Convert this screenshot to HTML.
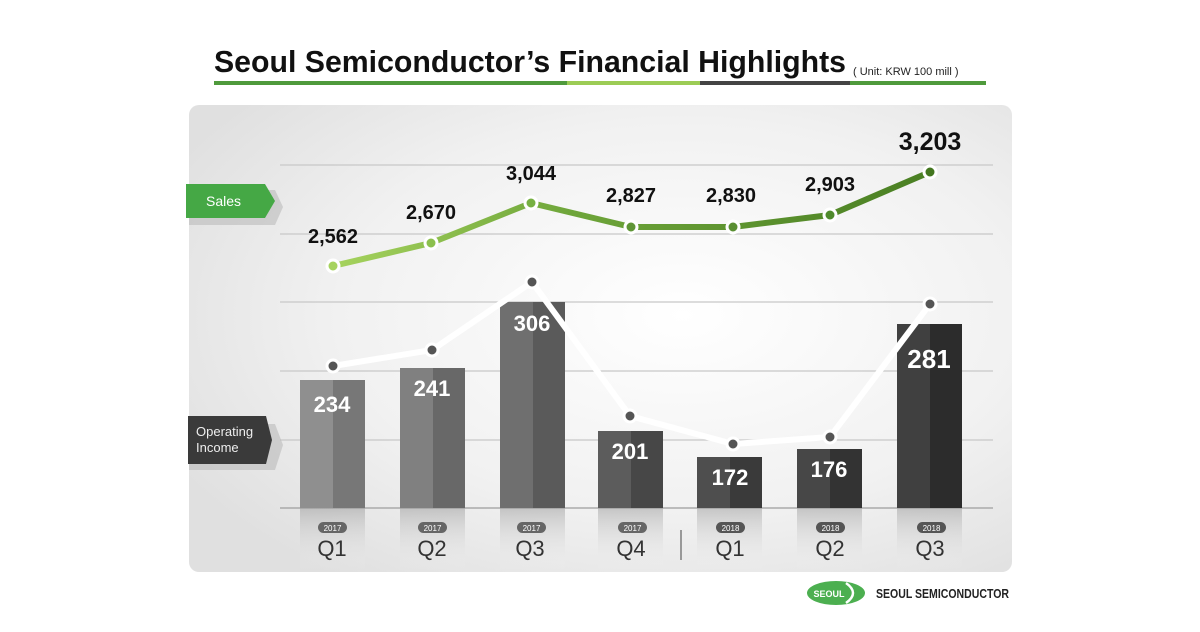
<!DOCTYPE html>
<html><head><meta charset="utf-8"><style>
body{margin:0;width:1200px;height:627px;background:#fff;overflow:hidden;font-family:"Liberation Sans",sans-serif}
</style></head><body>
<svg width="1200" height="627" viewBox="0 0 1200 627" xmlns="http://www.w3.org/2000/svg" font-family="Liberation Sans, sans-serif">
<defs>
<radialGradient id="bg" cx="0.6" cy="0.45" r="0.7">
<stop offset="0" stop-color="#ffffff"/><stop offset="0.6" stop-color="#f1f1f1"/><stop offset="1" stop-color="#e0e0e0"/></radialGradient>
<linearGradient id="sl" x1="0" x2="1"><stop offset="0" stop-color="#a6d35e"/><stop offset="0.4" stop-color="#6ea53a"/><stop offset="1" stop-color="#4a7f23"/></linearGradient>
<linearGradient id="fade" x1="0" y1="0" x2="0" y2="1"><stop offset="0" stop-color="#999" stop-opacity="0.5"/><stop offset="1" stop-color="#fff" stop-opacity="0"/></linearGradient>
</defs>
<text x="214" y="72" font-size="31" font-weight="bold" fill="#111" textLength="632" lengthAdjust="spacingAndGlyphs">Seoul Semiconductor’s Financial Highlights</text>
<text x="853" y="75" font-size="11" fill="#222">( Unit: KRW 100 mill )</text>
<rect x="214" y="81" width="353" height="4" fill="#4f9a3c"/>
<rect x="567" y="81" width="133" height="4" fill="#9ccc55"/>
<rect x="700" y="81" width="150" height="4" fill="#444"/>
<rect x="850" y="81" width="136" height="4" fill="#4f9a3c"/>
<rect x="189" y="105" width="823" height="467" rx="10" fill="url(#bg)"/>
<g stroke="#c8c8c8" stroke-width="1.2">
<line x1="280" y1="165" x2="993" y2="165"/><line x1="280" y1="234" x2="993" y2="234"/><line x1="280" y1="302" x2="993" y2="302"/><line x1="280" y1="371" x2="993" y2="371"/><line x1="280" y1="440" x2="993" y2="440"/></g>
<line x1="280" y1="508" x2="993" y2="508" stroke="#aaa" stroke-width="1.5"/>
<!-- bars -->
<g>
<rect x="300" y="380" width="65" height="128" fill="#8f8f8f"/><rect x="333" y="380" width="32" height="128" fill="#777"/>
<rect x="400" y="368" width="65" height="140" fill="#808080"/><rect x="433" y="368" width="32" height="140" fill="#686868"/>
<rect x="500" y="302" width="65" height="206" fill="#6f6f6f"/><rect x="533" y="302" width="32" height="206" fill="#5a5a5a"/>
<rect x="598" y="431" width="65" height="77" fill="#5c5c5c"/><rect x="631" y="431" width="32" height="77" fill="#474747"/>
<rect x="697" y="457" width="65" height="51" fill="#4e4e4e"/><rect x="730" y="457" width="32" height="51" fill="#3a3a3a"/>
<rect x="797" y="449" width="65" height="59" fill="#474747"/><rect x="830" y="449" width="32" height="59" fill="#333"/>
<rect x="897" y="324" width="65" height="184" fill="#404040"/><rect x="930" y="324" width="32" height="184" fill="#2c2c2c"/>
</g>
<g fill="url(#fade)">
<rect x="300" y="508" width="65" height="64"/><rect x="400" y="508" width="65" height="64"/><rect x="500" y="508" width="65" height="64"/><rect x="598" y="508" width="65" height="64"/><rect x="697" y="508" width="65" height="64"/><rect x="797" y="508" width="65" height="64"/><rect x="897" y="508" width="65" height="64"/></g>
<g fill="#fff" font-size="22" font-weight="bold" text-anchor="middle">
<text x="332" y="412">234</text><text x="432" y="396">241</text><text x="532" y="331">306</text><text x="630" y="459">201</text><text x="730" y="485">172</text><text x="829" y="477">176</text><text x="929" y="368" font-size="26">281</text></g>
<!-- operating income line -->
<polyline points="333,366 432,350 532,282 630,416 733,444 830,437 930,304" fill="none" stroke="#fff" stroke-width="6" stroke-linejoin="round"/>
<g fill="#555" stroke="#fff" stroke-width="3">
<circle cx="333" cy="366" r="6"/><circle cx="432" cy="350" r="6"/><circle cx="532" cy="282" r="6"/><circle cx="630" cy="416" r="6"/><circle cx="733" cy="444" r="6"/><circle cx="830" cy="437" r="6"/><circle cx="930" cy="304" r="6"/></g>
<!-- sales line -->
<polyline points="333,266 431,243 531,203 631,227 733,227 830,215 930,172" fill="none" stroke="url(#sl)" stroke-width="6" stroke-linejoin="round"/>
<g stroke="#fff" stroke-width="3">
<circle cx="333" cy="266" r="6" fill="#a6d35e"/><circle cx="431" cy="243" r="6" fill="#8cc04e"/><circle cx="531" cy="203" r="6" fill="#76b042"/><circle cx="631" cy="227" r="6" fill="#5f9536"/><circle cx="733" cy="227" r="6" fill="#5a8f33"/><circle cx="830" cy="215" r="6" fill="#4f8a2c"/><circle cx="930" cy="172" r="6" fill="#43761f"/></g>
<g fill="#111" font-size="20" font-weight="bold" text-anchor="middle">
<text x="333" y="243">2,562</text><text x="431" y="219">2,670</text><text x="531" y="180">3,044</text><text x="631" y="202">2,827</text><text x="731" y="202">2,830</text><text x="830" y="191">2,903</text><text x="930" y="150" font-size="25">3,203</text></g>
<!-- side labels -->
<polygon points="189,190 275,190 283,207 275,225 189,225" fill="#bbb" opacity="0.6"/>
<polygon points="186,184 265,184 275,201 265,218 186,218" fill="#45a845"/>
<text x="206" y="206" font-size="14" fill="#fff">Sales</text>
<polygon points="189,424 275,424 283,445 275,470 189,470" fill="#bbb" opacity="0.6"/>
<polygon points="188,416 266,416 272,440 266,464 188,464" fill="#3a3a3a"/>
<text x="196" y="436" font-size="13" fill="#eee">Operating</text>
<text x="196" y="452" font-size="13" fill="#eee">Income</text>
<!-- x labels -->
<g>
<rect x="318" y="522" width="29" height="11" rx="5.5" fill="#666"/><rect x="418" y="522" width="29" height="11" rx="5.5" fill="#666"/><rect x="517" y="522" width="29" height="11" rx="5.5" fill="#666"/><rect x="618" y="522" width="29" height="11" rx="5.5" fill="#666"/><rect x="716" y="522" width="29" height="11" rx="5.5" fill="#555"/><rect x="816" y="522" width="29" height="11" rx="5.5" fill="#555"/><rect x="917" y="522" width="29" height="11" rx="5.5" fill="#555"/></g>
<g fill="#fff" font-size="8" text-anchor="middle">
<text x="332.5" y="531">2017</text><text x="432.5" y="531">2017</text><text x="531.5" y="531">2017</text><text x="632.5" y="531">2017</text><text x="730.5" y="531">2018</text><text x="830.5" y="531">2018</text><text x="931.5" y="531">2018</text></g>
<g fill="#333" font-size="22" text-anchor="middle">
<text x="332" y="556">Q1</text><text x="432" y="556">Q2</text><text x="530" y="556">Q3</text><text x="631" y="556">Q4</text><text x="730" y="556">Q1</text><text x="830" y="556">Q2</text><text x="930" y="556">Q3</text></g>
<line x1="681" y1="530" x2="681" y2="560" stroke="#999" stroke-width="2"/>
<!-- logo -->
<ellipse cx="836" cy="593" rx="29" ry="12" fill="#4caf50"/>
<path d="M846,583 q14,10 0,20" fill="none" stroke="#fff" stroke-width="2.5"/>
<text x="829" y="597" font-size="9" font-weight="bold" fill="#fff" text-anchor="middle">SEOUL</text>
<text x="876" y="598" font-size="13" font-weight="bold" fill="#222" textLength="133" lengthAdjust="spacingAndGlyphs">SEOUL SEMICONDUCTOR</text>
</svg>
</body></html>
